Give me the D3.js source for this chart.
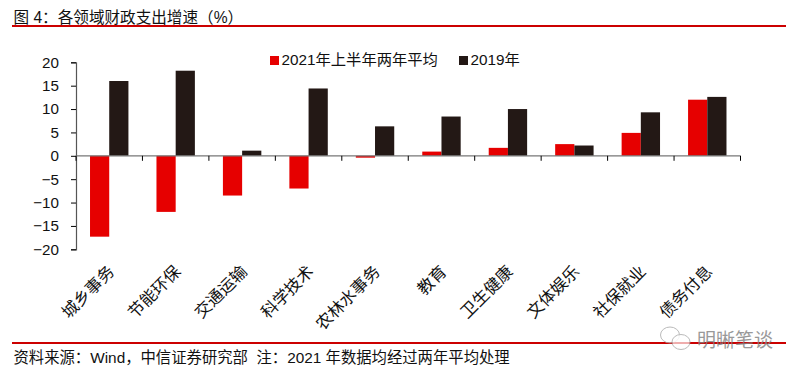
<!DOCTYPE html>
<html><head><meta charset="utf-8">
<script src="https://d3js.org/d3.v7.min.js"></script>
<style>html,body{margin:0;padding:0;background:#fff}svg{display:block}</style></head>
<body><svg id="c" width="798" height="374"></svg>
<script>
const categories=["城乡事务","节能环保","交通运输","科学技术","农林水事务","教育","卫生健康","文体娱乐","社保就业","债务付息"];
const seriesNames=["2021年上半年两年平均","2019年"];
const values2021=[-17.3,-12,-8.5,-7,-0.4,0.9,1.7,2.5,4.9,12];
const values2019=[16,18.2,1.1,14.4,6.3,8.4,10,2.2,9.3,12.6];
const yTicks=[20,15,10,5,0,-5,-10,-15,-20];
const titleText="图 4：各领域财政支出增速（%）";
const sourceText="资料来源：Wind，中信证券研究部  注：2021 年数据均经过两年平均处理";
const watermark="明晰笔谈";
const colors=["#e60000","#231815"];
const font="'Liberation Sans','Noto Sans CJK SC',sans-serif";
const svg=d3.select("#c");
svg.style("font-family",font);
const rule="#cc0000";
svg.append("rect").attr("x",12).attr("y",25).attr("width",774).attr("height",2).attr("fill",rule);
svg.append("rect").attr("x",12).attr("y",342).attr("width",774).attr("height",2).attr("fill",rule);
svg.append("text").attr("x",13.5).attr("y",22.5).attr("font-size",15.6).attr("fill","#111").text(titleText);
svg.append("text").attr("x",13.5).attr("y",363).attr("font-size",15.35).attr("fill","#111").style("white-space","pre").text(sourceText);
const y=d3.scaleLinear().domain([-20,20]).range([249.3,62.3]);
const x=d3.scaleBand().domain(categories).range([76,740.5]);
const x1=d3.scaleBand().domain(seriesNames).range([0,x.bandwidth()]).paddingInner(0).paddingOuter(0.73);
[values2021,values2019].forEach((vals,s)=>{
  svg.append("g").selectAll("rect").data(vals).join("rect")
    .attr("x",(d,i)=>x(categories[i])+x1(seriesNames[s]))
    .attr("width",x1.bandwidth())
    .attr("y",d=>y(Math.max(d,0)))
    .attr("height",d=>Math.abs(y(d)-y(0)))
    .attr("fill",colors[s]);
});
const yAxis=d3.axisLeft(y).tickValues(yTicks).tickSize(5).tickPadding(12);
const gy=svg.append("g").attr("transform","translate(76,0)").call(yAxis);
gy.select(".domain").attr("stroke","#555").attr("stroke-width",1.2);
gy.selectAll(".tick line").attr("stroke","#000");
gy.selectAll("text").attr("font-size",15.2).attr("font-family",font).attr("fill","#111");
const gx=svg.append("g").attr("transform",`translate(0,${y(0)})`);
gx.append("line").attr("x1",76).attr("x2",740.5).attr("stroke","#777").attr("stroke-width",1.2);
const edges=d3.range(categories.length+1).map(i=>i===categories.length?x.range()[1]:x(categories[i]));
gx.selectAll("line.t").data(edges).join("line").attr("class","t").attr("x1",d=>d).attr("x2",d=>d).attr("y1",0).attr("y2",5).attr("stroke","#000");
svg.append("g").selectAll("text").data(categories).join("text")
  .attr("transform",d=>`translate(${x(d)+x.bandwidth()/2+2},${268.5}) rotate(-45)`)
  .attr("text-anchor","end").attr("font-size",16.5).attr("fill","#111").attr("dy","0.35em").text(d=>d);
const lg=svg.append("g");
lg.append("rect").attr("x",270).attr("y",56).attr("width",9).attr("height",9).attr("fill",colors[0]);
lg.append("text").attr("x",281.5).attr("y",65).attr("font-size",15.3).attr("fill","#111").text(seriesNames[0]);
lg.append("rect").attr("x",459).attr("y",56).attr("width",9).attr("height",9).attr("fill",colors[1]);
lg.append("text").attr("x",470.5).attr("y",65).attr("font-size",15.3).attr("fill","#111").text(seriesNames[1]);
// watermark
const wm=svg.append("g").attr("opacity",0.8);
wm.append("ellipse").attr("cx",670).attr("cy",335).attr("rx",9.5).attr("ry",8).attr("fill","#fff").attr("fill-opacity",0.85).attr("stroke","#aaa");
wm.append("ellipse").attr("cx",681).attr("cy",342).attr("rx",9).attr("ry",7.5).attr("fill","#fff").attr("fill-opacity",0.85).attr("stroke","#aaa");
wm.append("text").attr("x",697).attr("y",347).attr("font-size",19).attr("fill","#808080").text(watermark);
</script></body></html>
